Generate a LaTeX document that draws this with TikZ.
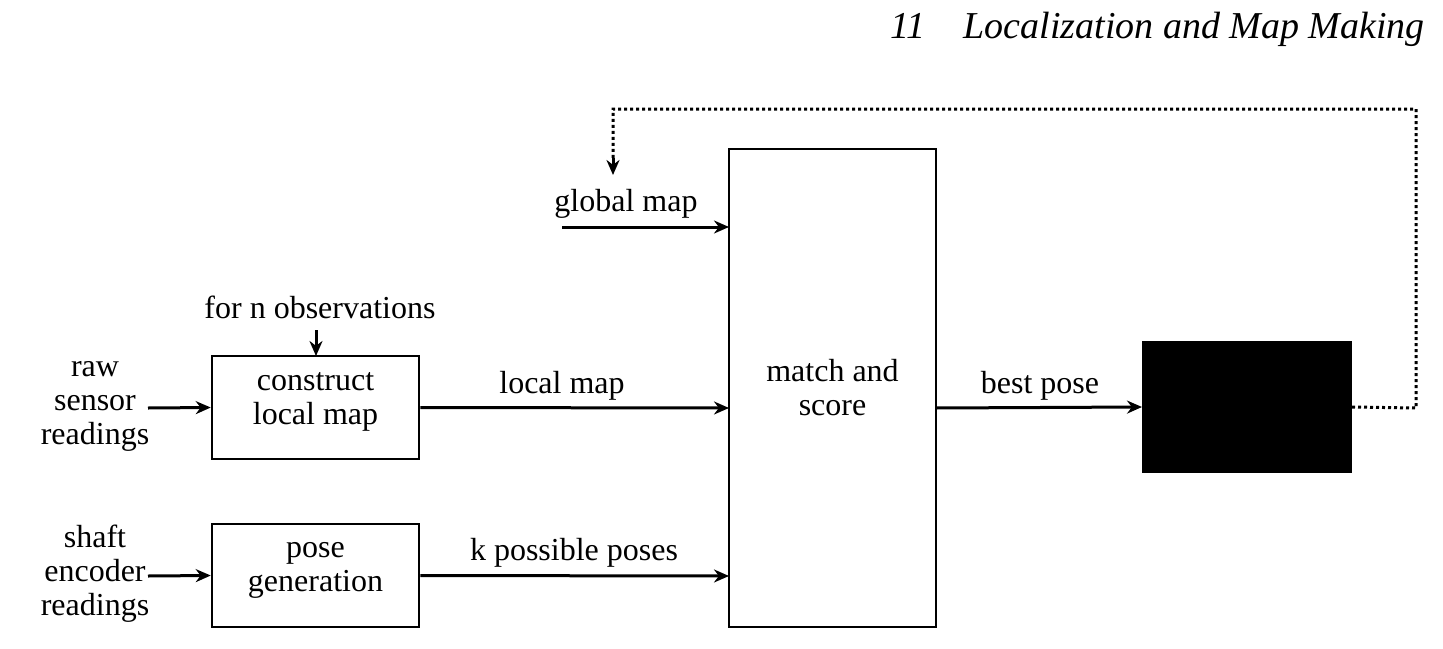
\documentclass[tikz,border=0pt]{standalone}
\usepackage{fontspec}
\setmainfont{Liberation Serif}
\usetikzlibrary{arrows.meta}
\begin{document}
\begin{tikzpicture}[x=1pt,y=-1pt,
  box/.style={draw,line width=2.5pt,inner sep=0pt},
  lbl/.style={font=\fontsize{32}{34}\selectfont,align=center,inner sep=0pt},
  arr/.style={line width=3pt,-{Stealth[length=15pt,width=13pt]}},
  dot/.style={line width=3pt,dash pattern=on 3pt off 3pt}]
\useasboundingbox (0,0) rectangle (1443,648);
\begin{scope}
\clip (0,0) rectangle (1443,648);
\node[lbl,anchor=base east,font=\fontsize{38}{40}\itshape] (hdr) at (1425,38) {11\quad Localization and Map Making};
\end{scope}
\node[box,minimum width=207pt,minimum height=103pt] (clm) at (315.5,407.5) {};
\node[lbl] (clmt) at (315.5,402) {construct\\local map};
\node[box,minimum width=207pt,minimum height=103pt] (pg) at (315.5,575.5) {};
\node[lbl] (pgt) at (315.5,570) {pose\\generation};
\node[box,minimum width=207pt,minimum height=478pt] (ms) at (832.5,388) {};
\node[lbl] (mst) at (832.5,388) {match and\\score};
\node[draw,fill=black,line width=2pt,minimum width=208pt,minimum height=130pt] (bb) at (1247,407) {};
\node[lbl] (raw) at (95,406) {raw\\sensor\\readings};
\node[lbl] (shaft) at (95,574) {shaft\\encoder\\readings};
\node[lbl] (fno) at (320,307) {for n observations};
\node[lbl] (gm) at (626,204) {global map};
\node[lbl] (lm) at (562,386) {local map};
\node[lbl] (kp) at (574,553) {k possible poses};
\node[lbl] (bp) at (1040,386) {best pose};
\coordinate (r0) at (148,408);
\coordinate (s0) at (148,576);
\coordinate (f0) at (316,330);
\coordinate (g0) at (562,227);
\coordinate (d1) at (1416,408);
\coordinate (d2) at (1416,109);
\coordinate (d3) at (613,109);
\coordinate (d4) at (613,175);
\draw[arr] (r0) -- (clm.west);
\draw[arr] (s0) -- (pg.west);
\draw[arr] (f0) -- (316,356);
\draw[arr] (g0) -- (729,227);
\draw[arr] (clm.east) -- (729,408);
\draw[arr] (pg.east) -- (729,576);
\draw[arr] (936,408) -- (bb.west);
\draw[dot] (bb.east) -- (d1) -- (d2) -- (d3) -- (613,160);
\draw[arr] (613,158) -- (d4);
\end{tikzpicture}
\end{document}
